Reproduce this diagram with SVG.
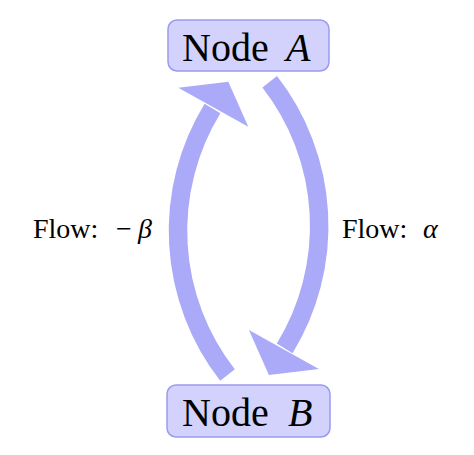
<svg xmlns="http://www.w3.org/2000/svg" width="474" height="455" viewBox="0 0 474 455">
<style>
.node{fill:#d2d2fc;stroke:#9a9af0;stroke-width:1.5}
.lbl{font-family:"Liberation Serif","DejaVu Serif",serif;fill:#000}
.shaft{fill:none;stroke:#aaaaf8;stroke-width:18.5}
.head{fill:#aaaaf8}
</style>
<rect width="474" height="455" fill="#fff"/>
<g id="connectors">
<path class="shaft" d="M227.5,375 A234.4,234.4 0 0 1 212.5,108.5"/>
<polygon class="head" points="178.3,87.7 228.3,81.7 248.3,126.7"/>
<path class="shaft" d="M269.7,81.8 A234.4,234.4 0 0 1 284.7,348.3"/>
<polygon class="head" points="318.9,369.1 268.9,375.1 248.9,330.1"/>
</g>
<g id="nodeA">
<rect class="node" x="168" y="20" width="161" height="51" rx="9"/>
<text class="lbl" font-size="40" y="61"><tspan x="182">Node</tspan><tspan x="286" font-style="italic">A</tspan></text>
</g>
<g id="nodeB">
<rect class="node" x="167" y="385" width="163" height="52" rx="9"/>
<text class="lbl" font-size="40" y="426"><tspan x="182">Node</tspan><tspan x="288" font-style="italic">B</tspan></text>
</g>
<g id="labels">
<text class="lbl" font-size="28" y="238"><tspan x="33">Flow:</tspan><tspan x="116">−</tspan><tspan x="138" font-style="italic">β</tspan></text>
<text class="lbl" font-size="28" y="238"><tspan x="342">Flow:</tspan><tspan x="423" font-style="italic">α</tspan></text>
</g>
</svg>
